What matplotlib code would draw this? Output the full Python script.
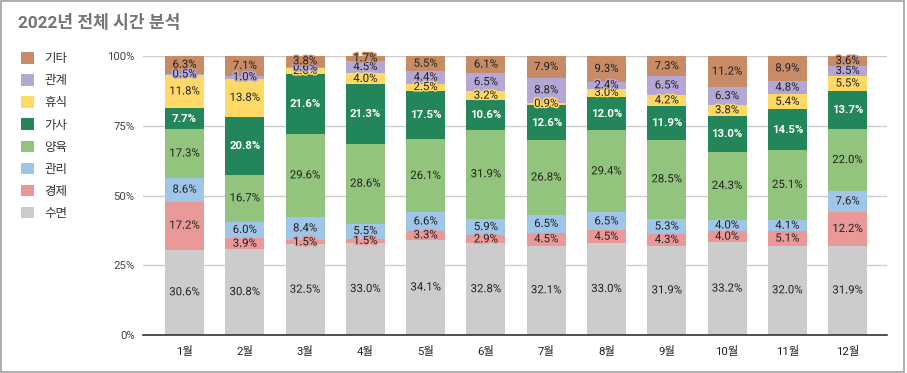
import matplotlib
matplotlib.use("Agg")
import matplotlib.pyplot as plt
import matplotlib.patheffects as pe
from matplotlib.patches import Patch, Rectangle
import numpy as np

plt.rcParams['font.family'] = ['Roboto', 'Noto Sans CJK KR', 'DejaVu Sans']

months = ['1월', '2월', '3월', '4월', '5월', '6월', '7월', '8월', '9월', '10월', '11월', '12월']
categories = ['수면', '경제', '관리', '양육', '가사', '휴식', '관계', '기타']

sleep   = [30.6, 30.8, 32.5, 33.0, 34.1, 32.8, 32.1, 33.0, 31.9, 33.2, 32.0, 31.9]
economy = [17.2, 3.9, 1.5, 1.5, 3.3, 2.9, 4.5, 4.5, 4.3, 4.0, 5.1, 12.2]
manage  = [8.6, 6.0, 8.4, 5.5, 6.6, 5.9, 6.5, 6.5, 5.3, 4.0, 4.1, 7.6]
parent  = [17.3, 16.7, 29.6, 28.6, 26.1, 31.9, 26.8, 29.4, 28.5, 24.3, 25.1, 22.0]
house   = [7.7, 20.8, 21.6, 21.3, 17.5, 10.6, 12.6, 12.0, 11.9, 13.0, 14.5, 13.7]
rest    = [11.8, 13.8, 2.0, 4.0, 2.5, 3.2, 0.9, 3.0, 4.2, 3.8, 5.4, 5.5]
relation = [0.5, 1.0, 0.6, 4.5, 4.4, 6.5, 8.8, 2.4, 6.5, 6.3, 4.8, 3.5]
etc     = [6.3, 7.1, 3.8, 1.7, 5.5, 6.1, 7.9, 9.3, 7.3, 11.2, 8.9, 3.6]

series = [sleep, economy, manage, parent, house, rest, relation, etc]
colors = ['#cccccc', '#ea9999', '#9fc5e8', '#93c47d', '#23865a', '#ffd966', '#b4a7d6', '#c78b65']

fig = plt.figure(figsize=(9.07, 3.73), dpi=100)
W, H = 907, 373
ax = fig.add_axes([143 / W, 38 / H, 744 / W, 279 / H])

x = np.arange(len(months))
vals = np.array(series, dtype=float)
totals = vals.sum(axis=0)
pct = vals / totals * 100
bottom = np.zeros(len(months))
width = 0.647
for k, (cat, col) in enumerate(zip(categories, colors)):
    ax.bar(x, pct[k], width, bottom=bottom, color=col, zorder=2, linewidth=0)
    for i in range(len(months)):
        yc = bottom[i] + pct[k][i] / 2
        if cat == '가사':
            ax.text(x[i], yc, f"{vals[k][i]:.1f}%", ha='center', va='center',
                    fontsize=8.2, color='white', fontweight='bold', zorder=4)
        else:
            ax.text(x[i], yc, f"{vals[k][i]:.1f}%", ha='center', va='center',
                    fontsize=8.2, color='#222222', zorder=4,
                    path_effects=[pe.withStroke(linewidth=2.2, foreground=col)])
    bottom += pct[k]

ax.set_xlim(-0.689, 11.653)
ax.set_ylim(0, 100)
ax.set_yticks([0, 25, 50, 75, 100])
ax.set_yticklabels(['0%', '25%', '50%', '75%', '100%'])
ax.set_xticks(x)
ax.set_xticklabels(months)
ax.tick_params(axis='both', length=0, labelsize=8.2, colors='#444444')
ax.tick_params(axis='x', pad=8, colors='#222222')
ax.tick_params(axis='y', pad=6)
ax.grid(axis='y', color='#cccccc', linewidth=1, zorder=0)
for s in ['top', 'right', 'left']:
    ax.spines[s].set_visible(False)
ax.spines['bottom'].set_color('#333333')
ax.spines['bottom'].set_linewidth(1.2)
ax.spines['bottom'].set_zorder(5)

fig.text(18 / W, 1 - 22 / H, '2022년 전체 시간 분석', fontsize=12.3, fontweight='bold',
         color='#757575', ha='left', va='center')

handles = [Patch(facecolor=c, edgecolor='none') for c in colors[::-1]]
fig.legend(handles, categories[::-1], loc='upper left', bbox_to_anchor=(10 / W, 1 - 41 / H),
           frameon=False, fontsize=9, handlelength=1.05, handleheight=1.05,
           labelspacing=0.72, handletextpad=0.8, labelcolor='#333333')

fig.patches.append(Rectangle((1 / W, 1 / H), (W - 4) / W, (H - 2) / H, transform=fig.transFigure,
                             fill=False, edgecolor='#a0a0a0', linewidth=1.2))

fig.savefig('out.png', dpi=100)
